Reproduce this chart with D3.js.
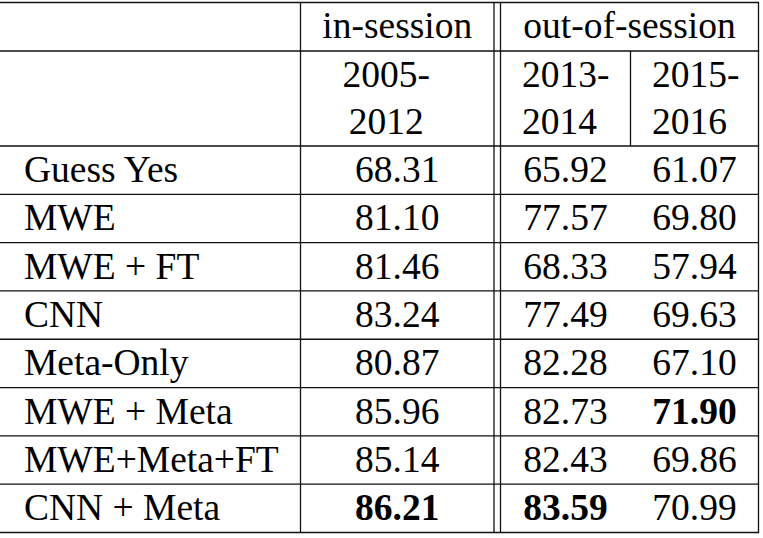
<!DOCTYPE html>
<html>
<head>
<meta charset="utf-8">
<script src="https://cdn.jsdelivr.net/npm/d3@7"></script>
<style>
  html, body { margin: 0; padding: 0; background: #fff; }
  svg { display: block; }
  text { font-family: "Liberation Serif", "Times New Roman", serif; fill: #000; }
</style>
</head>
<body>
<svg id="chart" width="763" height="538"></svg>
<script>
// ---- data ----
const models = ["Guess Yes", "MWE", "MWE + FT", "CNN", "Meta-Only", "MWE + Meta", "MWE+Meta+FT", "CNN + Meta"];
const inSession2005_2012 = [68.31, 81.10, 81.46, 83.24, 80.87, 85.96, 85.14, 86.21];
const outSession2013_2014 = [65.92, 77.57, 68.33, 77.49, 82.28, 82.73, 82.43, 83.59];
const outSession2015_2016 = [61.07, 69.80, 57.94, 69.63, 67.10, 71.90, 69.86, 70.99];
const groupHeaders = ["in-session", "out-of-session"];
const periodHeaders = [["2005-", "2012"], ["2013-", "2014"], ["2015-", "2016"]];
const seriesKeys = ["in", "out1", "out2"];
const seriesValues = { in: inSession2005_2012, out1: outSession2013_2014, out2: outSession2015_2016 };

// ---- layout ----
const svg = d3.select("#chart");
const fs = 37.5;
const xLeft = 0, xRight = 758.5;
const xModelEnd = 300.5;          // after model column
const xDblA = 494, xDblB = 500.5; // double rule
const xMid = 630.5;               // between 2013 and 2015
const yTop = 2.5, yHead1 = 51, yHead2 = 146, yBottom = 532.5;

const colX = d3.scaleOrdinal()
  .domain(seriesKeys)
  .range([(xModelEnd + xDblA) / 2, (xDblB + xMid) / 2, (xMid + xRight) / 2]);
const colLeft = d3.scaleOrdinal().domain(seriesKeys).range([xModelEnd, xDblB, xMid]);

const rowY = d3.scaleBand()
  .domain(models)
  .range([yHead2, yBottom])
  .paddingInner(0).paddingOuter(0);

const fmt = d3.format(".2f");
const best = {};
seriesKeys.forEach(k => { best[k] = d3.max(seriesValues[k]); });

const lineStyle = sel => sel.attr("stroke", "#111").attr("stroke-width", 1.3).attr("fill", "none");

// horizontal rules
const hRules = [yTop, yHead1, yHead2].concat(models.slice(1).map(m => rowY(m))).concat([yBottom]);
svg.append("g").selectAll("line").data(hRules).join("line")
  .attr("x1", xLeft).attr("x2", xRight + 0.6)
  .attr("y1", d => d).attr("y2", d => d)
  .call(lineStyle);

// vertical rules (full height)
svg.append("g").selectAll("line").data([xModelEnd, xDblA, xDblB, xRight]).join("line")
  .attr("x1", d => d).attr("x2", d => d)
  .attr("y1", yTop).attr("y2", yBottom)
  .call(lineStyle);

// vertical rule only in second header row
svg.append("line")
  .attr("x1", xMid).attr("x2", xMid)
  .attr("y1", yHead1).attr("y2", yHead2)
  .call(lineStyle);

// group headers
svg.append("g").selectAll("text").data(groupHeaders).join("text")
  .attr("x", (d, i) => i === 0 ? colX("in") : (xDblB + xRight) / 2)
  .attr("y", 38)
  .attr("text-anchor", "middle")
  .attr("font-size", fs)
  .text(d => d);

// period headers
const ph = svg.append("g");
periodHeaders.forEach((lines, i) => {
  const k = seriesKeys[i];
  lines.forEach((t, j) => {
    ph.append("text")
      .attr("x", i === 0 ? colX(k) - 11 : colLeft(k) + 21.5)
      .attr("y", 86.5 + j * 47)
      .attr("text-anchor", i === 0 ? "middle" : "start")
      .attr("font-size", fs)
      .text(t);
  });
});

// model names
svg.append("g").selectAll("text").data(models).join("text")
  .attr("x", 24)
  .attr("y", d => rowY(d) + rowY.bandwidth() / 2 + 12)
  .attr("font-size", fs)
  .text(d => d);

// values
const cells = svg.append("g");
seriesKeys.forEach(k => {
  cells.selectAll("text.v-" + k).data(seriesValues[k]).join("text")
    .attr("class", "v-" + k)
    .attr("x", colX(k))
    .attr("y", (d, i) => rowY(models[i]) + rowY.bandwidth() / 2 + 12)
    .attr("text-anchor", "middle")
    .attr("font-size", fs)
    .attr("font-weight", d => d === best[k] ? "bold" : "normal")
    .text(d => fmt(d));
});
</script>
</body>
</html>
